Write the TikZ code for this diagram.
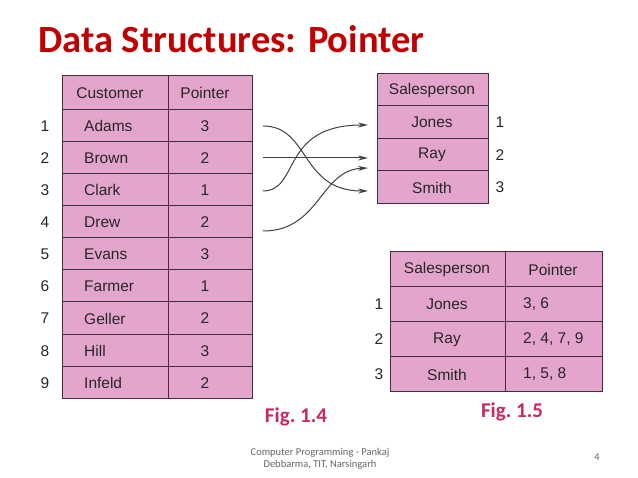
\documentclass[tikz,border=0pt]{standalone}
\usepackage{fontspec}
\setmainfont{Liberation Sans}
\newfontfamily\carlitofont{Carlito}
\usetikzlibrary{arrows.meta}
\definecolor{cellpink}{RGB}{228,165,205}
\definecolor{edge}{RGB}{70,45,60}
\definecolor{titlered}{RGB}{192,0,0}
\definecolor{figred}{RGB}{200,40,100}
\tikzset{
 txt/.style={font=\fontsize{15.5}{18}\selectfont,inner sep=0pt,text=black!85},
 ptr/.style={-{Stealth[length=10pt,width=5pt]},line width=1pt,draw=black!75},
 fig/.style={font=\carlitofont\bfseries\fontsize{21}{24}\selectfont,text=figred},
}
\begin{document}
\begin{tikzpicture}[x=1pt,y=-1pt]
\useasboundingbox (0,0) rectangle (638,478);
\node[anchor=base west,font=\carlitofont\bfseries\fontsize{38.5}{42}\selectfont,text=titlered,inner sep=0pt] (title) at (38,53) {Data Structures: Pointer};
% table 1.4
\foreach \t/\b/\n/\p [count=\i from 0] in {76/110/Customer/Pointer,110/142/Adams/3,142/174/Brown/2,174/206/Clark/1,206/238/Drew/2,238/270/Evans/3,270/302/Farmer/1,302/335/Geller/2,335/367/Hill/3,367/399/Infeld/2}{
  \draw[draw=edge,line width=1pt,fill=cellpink] (62,\t) rectangle (252,\b);
  \draw[draw=edge,line width=1pt] (168,\t) -- (168,\b);
  \ifnum\i=0
   \node[txt] (c\i) at (110,{(\t+\b)/2}) {\n};
  \else
   \node[txt,anchor=west] (c\i) at (84,{(\t+\b)/2}) {\n};
   \node[txt] (n\i) at (45,{(\t+\b)/2}) {\i};
  \fi
  \node[txt] (p\i) at (205,{(\t+\b)/2}) {\p};
}
% table salesperson
\foreach \t/\b/\n [count=\i from 0] in {74/106/Salesperson,106/139/Jones,139/171/Ray,171/204/Smith}{
  \draw[draw=edge,line width=1pt,fill=cellpink] (377,\t) rectangle (488,\b);
  \node[txt] (s\i) at (432,{(\t+\b)/2}) {\n};
  \ifnum\i>0 \node[txt] (sn\i) at (500,{(\t+\b)/2}) {\i}; \fi
}
\coordinate (a1) at (263,126);
\coordinate (a2) at (263,158);
\coordinate (a3) at (263,191);
\coordinate (a4) at (263,231);
\coordinate (e1) at (368,125);
\coordinate (e2) at (368,158);
\coordinate (e3) at (368,191);
\coordinate (e4) at (368,168);
\draw[ptr] (a1) .. controls (310,126) and (300,191) .. (e3);
\draw[ptr] (a2) -- (e2);
\draw[ptr] (a3) .. controls (300,191) and (280,125) .. (e1);
\draw[ptr] (a4) .. controls (320,231) and (320,170) .. (e4);
% table 1.5
\foreach \t/\b/\n/\p [count=\i from 0] in {252/287/Salesperson/Pointer,287/322/Jones/{3, 6},322/357/Ray/{2, 4, 7, 9},357/392/Smith/{1, 5, 8}}{
  \draw[draw=edge,line width=1pt,fill=cellpink] (390,\t) rectangle (602,\b);
  \draw[draw=edge,line width=1pt] (505,\t) -- (505,\b);
  \node[txt] (t\i) at (447,{(\t+\b)/2}) {\n};
  \ifnum\i=0
   \node[txt] (q\i) at (553,{(\t+\b)/2}) {\p};
  \else
   \node[txt,anchor=west] (q\i) at (523,{(\t+\b)/2}) {\p};
   \node[txt] (tn\i) at (379,{(\t+\b)/2}) {\i};
  \fi
}
\node[fig] (f4) at (296,417) {Fig.\ 1.4};
\node[fig] (f5) at (512,412) {Fig.\ 1.5};
\node[font=\carlitofont\fontsize{10.5}{12}\selectfont,text=black!60,align=center] (foot) at (320,459) {Computer Programming - Pankaj\\Debbarma, TIT, Narsingarh};
\node[font=\carlitofont\fontsize{10.5}{12}\selectfont,text=black!60] (pg) at (597,457) {4};
\end{tikzpicture}
\end{document}
